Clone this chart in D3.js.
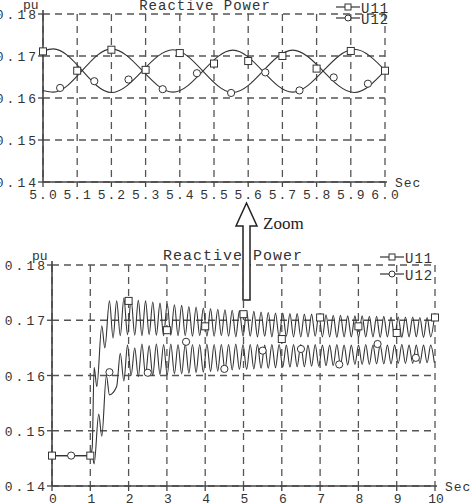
<!DOCTYPE html>
<html><head><meta charset="utf-8">
<script src="https://cdn.jsdelivr.net/npm/d3@7"></script>
<style>body{margin:0;background:#fff}text{font-family:"Liberation Mono",monospace;fill:#333}</style>
</head><body>
<svg id="c" width="474" height="504"></svg>
<script>
// ---- zoom chart (5-6 s): extrema of the two curves
const zoomA = [[5.0,0.1712],[5.03,0.1717],[5.2,0.1613],[5.38,0.1715],[5.555,0.1613],[5.73,0.1714],[5.91,0.1613],[6.0,0.1665]];
const zoomB = [[5.0,0.1618],[5.03,0.1614],[5.2,0.1717],[5.38,0.1614],[5.555,0.1714],[5.73,0.1614],[5.91,0.1716],[6.0,0.1666]];
const zoomSq = [[5.0,0.1711],[5.1,0.1665],[5.2,0.1715],[5.3,0.1667],[5.4,0.1707],[5.5,0.1682],[5.6,0.1688],[5.7,0.1700],[5.8,0.1670],[5.9,0.1712],[6.0,0.1665]];
const zoomCi = [[5.05,0.1624],[5.15,0.1640],[5.25,0.1644],[5.35,0.1621],[5.45,0.1659],[5.55,0.1612],[5.65,0.1661],[5.75,0.1618],[5.85,0.1649],[5.95,0.1634]];
const zoomXTicks = ["5.0","5.1","5.2","5.3","5.4","5.5","5.6","5.7","5.8","5.9","6.0"];
const yTicks = [0.14,0.15,0.16,0.17,0.18];

// ---- full chart (0-10 s)
const u11Start = [[0,0.1455],[1.0,0.1455],[1.05,0.1470],[1.1,0.1615],[1.17,0.1580],[1.3,0.1690],[1.38,0.1650],[1.5,0.1735]];
const u12Start = [[0,0.1455],[1.0,0.1455],[1.05,0.1455],[1.1,0.1440],[1.22,0.1530],[1.3,0.1490],[1.42,0.1600],[1.5,0.1565]];
const cycleStart = 1.5, cycle = 0.1885;   // oscillation timing
const u11Peaks = [0.1735,0.1740,0.1738,0.1736,0.1735,0.1733,0.1731,0.1730,0.1728,0.1727,0.1725,0.1724,0.1722,0.1721,0.1720,0.1719,0.1718,0.1717,0.1716,0.1716,0.1715,0.1714,0.1713,0.1713,0.1712,0.1712,0.1711,0.1711,0.1710,0.1710,0.1709,0.1709,0.1708,0.1708,0.1708,0.1707,0.1707,0.1707,0.1706,0.1706,0.1706,0.1706,0.1705,0.1705,0.1705];
const u11Troughs = [0.1668,0.1672,0.1674,0.1673,0.1672,0.1674,0.1673,0.1672,0.1673,0.1672,0.1672,0.1671,0.1672,0.1671,0.1671,0.1672,0.1671,0.1670,0.1671,0.1671,0.1670,0.1671,0.1670,0.1670,0.1671,0.1670,0.1670,0.1670,0.1671,0.1670,0.1670,0.1669,0.1670,0.1670,0.1669,0.1670,0.1670,0.1669,0.1670,0.1670,0.1669,0.1670,0.1670,0.1669,0.1670];
const u12Peaks = [0.1640,0.1655,0.1650,0.1657,0.1654,0.1657,0.1656,0.1657,0.1656,0.1657,0.1656,0.1656,0.1657,0.1656,0.1656,0.1656,0.1657,0.1656,0.1656,0.1656,0.1655,0.1656,0.1656,0.1655,0.1656,0.1656,0.1655,0.1656,0.1655,0.1655,0.1656,0.1655,0.1655,0.1655,0.1656,0.1655,0.1655,0.1655,0.1655,0.1656,0.1655,0.1655,0.1655,0.1655,0.1655];
const u12Troughs = [0.1580,0.1590,0.1600,0.1598,0.1601,0.1600,0.1602,0.1601,0.1603,0.1603,0.1604,0.1605,0.1606,0.1607,0.1608,0.1609,0.1610,0.1611,0.1611,0.1612,0.1613,0.1613,0.1614,0.1615,0.1615,0.1616,0.1616,0.1617,0.1617,0.1618,0.1618,0.1619,0.1619,0.1620,0.1620,0.1620,0.1621,0.1621,0.1621,0.1622,0.1622,0.1622,0.1622,0.1623,0.1623];
const fullSq = [[0,0.1455],[1,0.1455],[2,0.1735],[3,0.1682],[4,0.1689],[5,0.1711],[6,0.1666],[7,0.1705],[8,0.1689],[9,0.1677],[10,0.1705]];
const fullCi = [[0.5,0.1455],[1.5,0.1606],[2.5,0.1605],[3.5,0.1661],[4.5,0.1612],[5.5,0.1645],[6.5,0.1648],[7.5,0.1620],[8.5,0.1657],[9.5,0.1632]];
const fullXTicks = ["0","1","2","3","4","5","6","7","8","9","10"];

function series(start, hi, lo, phase){
  const pts = start.slice();
  hi.forEach((h,k) => {
    const t = cycleStart + k*cycle;
    pts.push([t + cycle*(0.5+phase), lo[k]]);
    pts.push([t + cycle*(1+phase), h]);
  });
  return pts.filter(p => p[0] <= 10);
}
const u11 = series(u11Start, u11Peaks, u11Troughs, 0);
const u12 = series(u12Start, u12Peaks, u12Troughs, 0.5);

const svg = d3.select("#c");
const ink = "#444";

function panel(o){
  const x = d3.scaleLinear().domain(o.xd).range([o.l, o.r]);
  const y = d3.scaleLinear().domain([0.14,0.18]).range([o.b, o.t]);
  const g = svg.append("g");
  // grid
  o.xt.forEach((lab,i) => {
    const v = o.xd[0] + i*(o.xd[1]-o.xd[0])/(o.xt.length-1);
    g.append("line").attr("x1",x(v)).attr("x2",x(v)).attr("y1",o.t).attr("y2",o.b)
      .attr("stroke","#555").attr("stroke-dasharray","7,5").attr("stroke-width",1.3);
    g.append("line").attr("x1",x(v)).attr("x2",x(v)).attr("y1",o.b).attr("y2",o.b+5).attr("stroke",ink).attr("stroke-width",1.3);
    g.append("text").attr("x",x(v)+1).attr("y",o.b+17).attr("text-anchor","middle")
      .attr("font-size",13).attr("letter-spacing",o.ls).text(lab);
  });
  yTicks.forEach(v => {
    g.append("line").attr("x1",o.l).attr("x2",o.r).attr("y1",y(v)).attr("y2",y(v))
      .attr("stroke","#555").attr("stroke-dasharray","7,5").attr("stroke-width",1.3);
    g.append("line").attr("x1",o.l-5).attr("x2",o.l).attr("y1",y(v)).attr("y2",y(v)).attr("stroke",ink).attr("stroke-width",1.3);
    g.append("text").attr("x",o.l-4).attr("y",y(v)+5).attr("text-anchor","end")
      .attr("font-size",13).attr("letter-spacing",3).text(v.toFixed(2));
  });
  g.append("line").attr("x1",o.l).attr("x2",o.l).attr("y1",o.t-4).attr("y2",o.b).attr("stroke",ink).attr("stroke-width",1.6);
  g.append("line").attr("x1",o.l).attr("x2",o.r+2).attr("y1",o.b).attr("y2",o.b).attr("stroke",ink).attr("stroke-width",1.6);
  g.append("text").attr("x",o.l-20).attr("y",o.t-5).attr("font-size",13).text("pu");
  g.append("text").attr("x",o.r+10).attr("y",o.b+5).attr("font-size",13).attr("letter-spacing",1).text("Sec");
  g.append("text").attr("x",o.tx).attr("y",o.ty).attr("text-anchor","middle").attr("font-size",o.tfs).attr("letter-spacing",1).text("Reactive Power");
  const line = d3.line().x(d => x(d[0])).y(d => y(d[1])).curve(d3.curveMonotoneX);
  o.lines.forEach(s => g.append("path").attr("d",line(s)).attr("fill","none").attr("stroke","#333").attr("stroke-width",1.1));
  o.sq.forEach(d => g.append("rect").attr("x",x(d[0])-3.5).attr("y",y(d[1])-3.5).attr("width",7).attr("height",7)
    .attr("fill","#fff").attr("stroke","#333"));
  o.ci.forEach(d => g.append("circle").attr("cx",x(d[0])).attr("cy",y(d[1])).attr("r",3.6).attr("fill","#fff").attr("stroke","#333"));
  // legend
  ["U11","U12"].forEach((lab,i) => {
    const ly = o.ly + i*o.lgap, lx = o.lx;
    g.append("line").attr("x1",lx).attr("x2",lx+24).attr("y1",ly).attr("y2",ly).attr("stroke","#333").attr("stroke-width",1.2);
    if(i===0) g.append("rect").attr("x",lx+9).attr("y",ly-3).attr("width",6).attr("height",6).attr("fill","#fff").attr("stroke","#333");
    else g.append("circle").attr("cx",lx+12).attr("cy",ly).attr("r",3).attr("fill","#fff").attr("stroke","#333");
    g.append("text").attr("x",lx+25).attr("y",ly+6).attr("font-size",14).attr("letter-spacing",1).text(lab);
  });
}

panel({xd:[5,6], l:43, r:385, t:14, b:182, xt:zoomXTicks, ls:2, tx:205, ty:10, tfs:14,
  lines:[zoomA, zoomB], sq:zoomSq, ci:zoomCi, lx:336, ly:7, lgap:11});
panel({xd:[0,10], l:52, r:435, t:265, b:486, xt:fullXTicks, ls:0, tx:233, ty:260, tfs:15,
  lines:[u11, u12], sq:fullSq, ci:fullCi, lx:380, ly:257, lgap:17});

// zoom arrow
svg.append("path").attr("d","M243,300 L243,226 L236,226 L246.5,203 L257,226 L250,226 L250,300 Z")
  .attr("fill","#fff").attr("stroke","#222").attr("stroke-width",1.5);
svg.append("text").attr("x",263).attr("y",229).attr("font-size",17)
  .style("font-family","'Liberation Serif',serif").style("fill","#222").text("Zoom");
</script>
</body></html>
